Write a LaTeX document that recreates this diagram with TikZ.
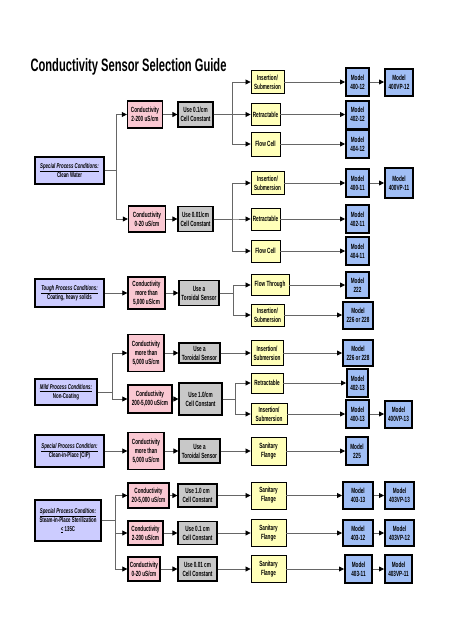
\documentclass[tikz,border=0pt]{standalone}
\usepackage{fontspec}
\setmainfont{Liberation Sans}[FakeStretch=0.62]
\usetikzlibrary{arrows.meta}
\definecolor{condfill}{RGB}{204,204,255}
\definecolor{kfill}{RGB}{250,200,210}
\definecolor{ufill}{RGB}{200,200,200}
\definecolor{sfill}{RGB}{255,255,185}
\definecolor{mfill}{RGB}{160,190,245}
\newcommand{\spc}[1]{\underline{\textit{#1}}}

\begin{document}
\begin{tikzpicture}[x=1pt, y=-1pt,
    base/.style={draw, align=center, inner sep=0pt, font=\bfseries\fontsize{7.5}{9}\selectfont},
    cond/.style={base, fill=condfill, line width=1.4pt, minimum width=69pt, minimum height=27pt, font=\bfseries\fontsize{7}{8.5}\selectfont},
    kbox/.style={base, fill=kfill, line width=1.4pt, minimum width=35pt, minimum height=27pt},
    ubox/.style={base, fill=ufill, line width=1.2pt, minimum width=35pt, minimum height=25pt},
    sbox/.style={base, fill=sfill, line width=0.9pt, minimum width=33pt, minimum height=23pt},
    mbox/.style={base, fill=mfill, line width=2pt, minimum width=23pt, minimum height=28pt},
    arr/.style={-{Triangle[length=5pt,width=5pt,color=black]}, line width=0.8pt, draw=black!60}
]
\useasboundingbox (0,0) rectangle (474,632);
\node[anchor=west, font=\bfseries\fontsize{18}{20}\selectfont] (title) at (27,67) {Conductivity Sensor Selection Guide};

% clean water
\node[cond] (cw) at (69.5,170.5) {\spc{Special Process Conditions:}\\Clean Water};
\node[kbox] (kA1) at (145,114.5) {Conductivity\\2-200 uS/cm};
\node[ubox] (uA1) at (195.5,114.5) {Use 0.1/cm\\Cell Constant};
\node[sbox] (sA1) at (267.5,82) {Insertion/\\Submersion};
\node[sbox, minimum width=29pt, minimum height=22pt] (sA2) at (265.5,114.5) {Retractable};
\node[sbox, minimum width=29pt, minimum height=24pt] (sA3) at (265.5,144) {Flow Cell};
\node[mbox] (mA1) at (357.5,82) {Model\\400-12};
\node[mbox, minimum width=28pt, minimum height=27pt] (vA1) at (399,82) {Model\\400VP-12};
\node[mbox] (mA2) at (357.5,114.5) {Model\\402-12};
\node[mbox] (mA3) at (357.5,144) {Model\\404-12};

\node[kbox, minimum width=37pt, minimum height=26pt] (kA2) at (147,219) {Conductivity\\0-20 uS/cm};
\node[ubox] (uA2) at (195.5,219) {Use 0.01/cm\\Cell Constant};
\node[sbox] (sA4) at (267.5,183) {Insertion/\\Submersion};
\node[sbox, minimum width=29pt, minimum height=22pt] (sA5) at (265.5,219) {Retractable};
\node[sbox, minimum width=29pt, minimum height=22pt] (sA6) at (265.5,251) {Flow Cell};
\node[mbox] (mA4) at (357.5,183) {Model\\400-11};
\node[mbox, minimum width=28pt, minimum height=30pt] (vA4) at (399,183) {Model\\400VP-11};
\node[mbox] (mA5) at (357.5,219) {Model\\402-11};
\node[mbox] (mA6) at (357.5,251) {Model\\404-11};

\draw[arr] (cw.east) -- ++(12,0) |- (kA1.west);
\draw[arr] (cw.east) -- ++(12,0) |- (kA2.west);
\draw[arr] (kA1) -- (uA1);
\draw[arr] (kA2) -- (uA2);
\foreach \s in {sA1,sA2,sA3} \draw[arr] (uA1.east) -- ++(19,0) |- (\s.west);
\foreach \s in {sA4,sA5,sA6} \draw[arr] (uA2.east) -- ++(19,0) |- (\s.west);
\draw[arr] (sA1) -- (mA1);
\draw[arr] (mA1) -- (vA1);
\draw[arr] (sA2) -- (mA2);
\draw[arr] (sA3) -- (mA3);
\draw[arr] (sA4) -- (mA4);
\draw[arr] (mA4) -- (vA4);
\draw[arr] (sA5) -- (mA5);
\draw[arr] (sA6) -- (mA6);

% tough process
\node[cond, minimum height=28pt] (tp) at (69.5,293) {\spc{Tough Process Conditions:}\\Coating, heavy solids};
\node[kbox, minimum width=37pt, minimum height=32pt] (kB) at (146.5,293) {Conductivity\\more than\\5,000 uS/cm};
\node[ubox, minimum width=40pt] (uB) at (199,293) {Use a\\Toroidal Sensor};
\node[sbox, minimum width=38pt, minimum height=21pt] (sB1) at (270,285) {Flow Through};
\node[sbox, minimum height=22pt] (sB2) at (267.5,315) {Insertion/\\Submersion};
\node[mbox, minimum height=26pt] (mB1) at (357.5,285) {Model\\222};
\node[mbox, minimum width=30pt, minimum height=27pt] (mB2) at (358,315) {Model\\226 or 228};

\draw[arr] (tp) -- (kB);
\draw[arr] (kB) -- (uB);
\draw[arr] (uB.east) -- ++(14,0) |- (sB1.west);
\draw[arr] (uB.east) -- ++(14,0) |- (sB2.west);
\draw[arr] (sB1) -- (mB1);
\draw[arr] (sB2) -- (mB2);

% mild process
\node[cond, minimum width=62pt, minimum height=26pt] (mp) at (66,392) {\spc{Mild Process Conditions:}\\Non-Coating};
\node[kbox, minimum width=36pt, minimum height=37pt] (kC1) at (146,353) {Conductivity\\more than\\5,000 uS/cm};
\node[ubox, minimum width=41pt, minimum height=20pt] (uC1) at (199.5,353) {Use a\\Toroidal Sensor};
\node[kbox, minimum width=44pt, minimum height=28pt] (kC2) at (150,399) {Conductivity\\200-5,000 uS/cm};
\node[ubox, minimum width=43pt, minimum height=32pt] (uC2) at (200.5,399) {Use 1.0/cm\\Cell Constant};
\node[sbox, minimum width=32pt, minimum height=25pt] (sC1) at (267,353) {Insertion/\\Submersion};
\node[mbox, minimum width=30pt, minimum height=26pt] (mC1) at (358,353) {Model\\226 or 228};
\node[sbox, minimum width=32pt, minimum height=20pt] (sC2) at (267,383) {Retractable};
\node[mbox, minimum width=21pt] (mC2) at (357.5,383) {Model\\402-13};
\node[sbox, minimum width=36pt, minimum height=21pt] (sC3) at (269,414) {Insertion/\\Submersion};
\node[mbox] (mC3) at (357.5,414) {Model\\400-13};
\node[mbox, minimum width=27pt, minimum height=27pt] (vC3) at (398.5,414) {Model\\400VP-13};

\draw[arr] (mp.east) -- ++(15,0) |- (kC1.west);
\draw[arr] (mp.east) -- ++(15,0) |- (kC2.west);
\draw[arr] (kC1) -- (uC1);
\draw[arr] (kC2) -- (uC2);
\draw[arr] (uC1) -- (sC1);
\draw[arr] (uC2.east) -- ++(13,0) |- (sC2.west);
\draw[arr] (uC2.east) -- ++(13,0) |- (sC3.west);
\draw[arr] (sC1) -- (mC1);
\draw[arr] (sC2) -- (mC2);
\draw[arr] (sC3) -- (mC3);
\draw[arr] (mC3) -- (vC3);

% clean-in-place
\node[cond, minimum height=32pt] (cp) at (69.5,451) {\spc{Special Process Condition:}\\Clean-in-Place (CIP)};
\node[kbox, minimum width=36pt, minimum height=37pt] (kD) at (146,451) {Conductivity\\more than\\5,000 uS/cm};
\node[ubox, minimum width=41pt, minimum height=24pt] (uD) at (199.5,451) {Use a\\Toroidal Sensor};
\node[sbox, minimum width=35pt, minimum height=28pt] (sD) at (268.5,451) {Sanitary\\Flange};
\node[mbox, minimum width=22pt] (mD) at (357,451) {Model\\225};

\draw[arr] (cp) -- (kD);
\draw[arr] (kD) -- (uD);
\draw[arr] (uD) -- (sD);
\draw[arr] (sD) -- (mD);

% steam-in-place
\node[cond, minimum width=66pt, minimum height=41pt] (sp) at (68,520.5) {\spc{Special Process Condition:}\\Steam-in-Place Sterilization\\\underline{<} 135C};
\node[kbox, minimum width=41pt, minimum height=25pt] (kE1) at (148.5,495.5) {Conductivity\\20-5,000 uS/cm};
\node[ubox, minimum width=39pt, minimum height=23pt] (uE1) at (197.5,495.5) {Use 1.0 cm\\Cell Constant};
\node[kbox, minimum width=35pt, minimum height=24pt] (kE2) at (145.5,533) {Conductivity\\2-200 uS/cm};
\node[ubox, minimum width=39pt, minimum height=23pt] (uE2) at (197.5,533) {Use 0.1 cm\\Cell Constant};
\node[kbox, minimum width=32pt, minimum height=24pt] (kE3) at (144,569) {Conductivity\\0-20 uS/cm};
\node[ubox, minimum width=39pt, minimum height=24pt] (uE3) at (197.5,569) {Use 0.01 cm\\Cell Constant};
\foreach \n/\y in {1/495.5,2/533,3/569}
  \node[sbox, minimum width=35pt, minimum height=27pt] (sE\n) at (268.5,\y) {Sanitary\\Flange};
\node[mbox, minimum width=30pt, minimum height=27pt] (mE1) at (358,495.5) {Model\\403-13};
\node[mbox, minimum width=29pt, minimum height=27pt] (vE1) at (399.5,495.5) {Model\\403VP-13};
\node[mbox, minimum width=30pt, minimum height=26pt] (mE2) at (358,533) {Model\\403-12};
\node[mbox, minimum width=29pt, minimum height=26pt] (vE2) at (399.5,533) {Model\\403VP-12};
\node[mbox, minimum width=27pt] (mE3) at (358.5,569) {Model\\403-11};
\node[mbox, minimum width=27pt] (vE3) at (398.5,569) {Model\\403VP-11};

\foreach \n in {1,2,3} {
  \draw[arr] (sp.east) -- ++(14,0) |- (kE\n.west);
  \draw[arr] (kE\n) -- (uE\n);
  \draw[arr] (uE\n) -- (sE\n);
  \draw[arr] (sE\n) -- (mE\n);
  \draw[arr] (mE\n) -- (vE\n);
}
\end{tikzpicture}
\end{document}
